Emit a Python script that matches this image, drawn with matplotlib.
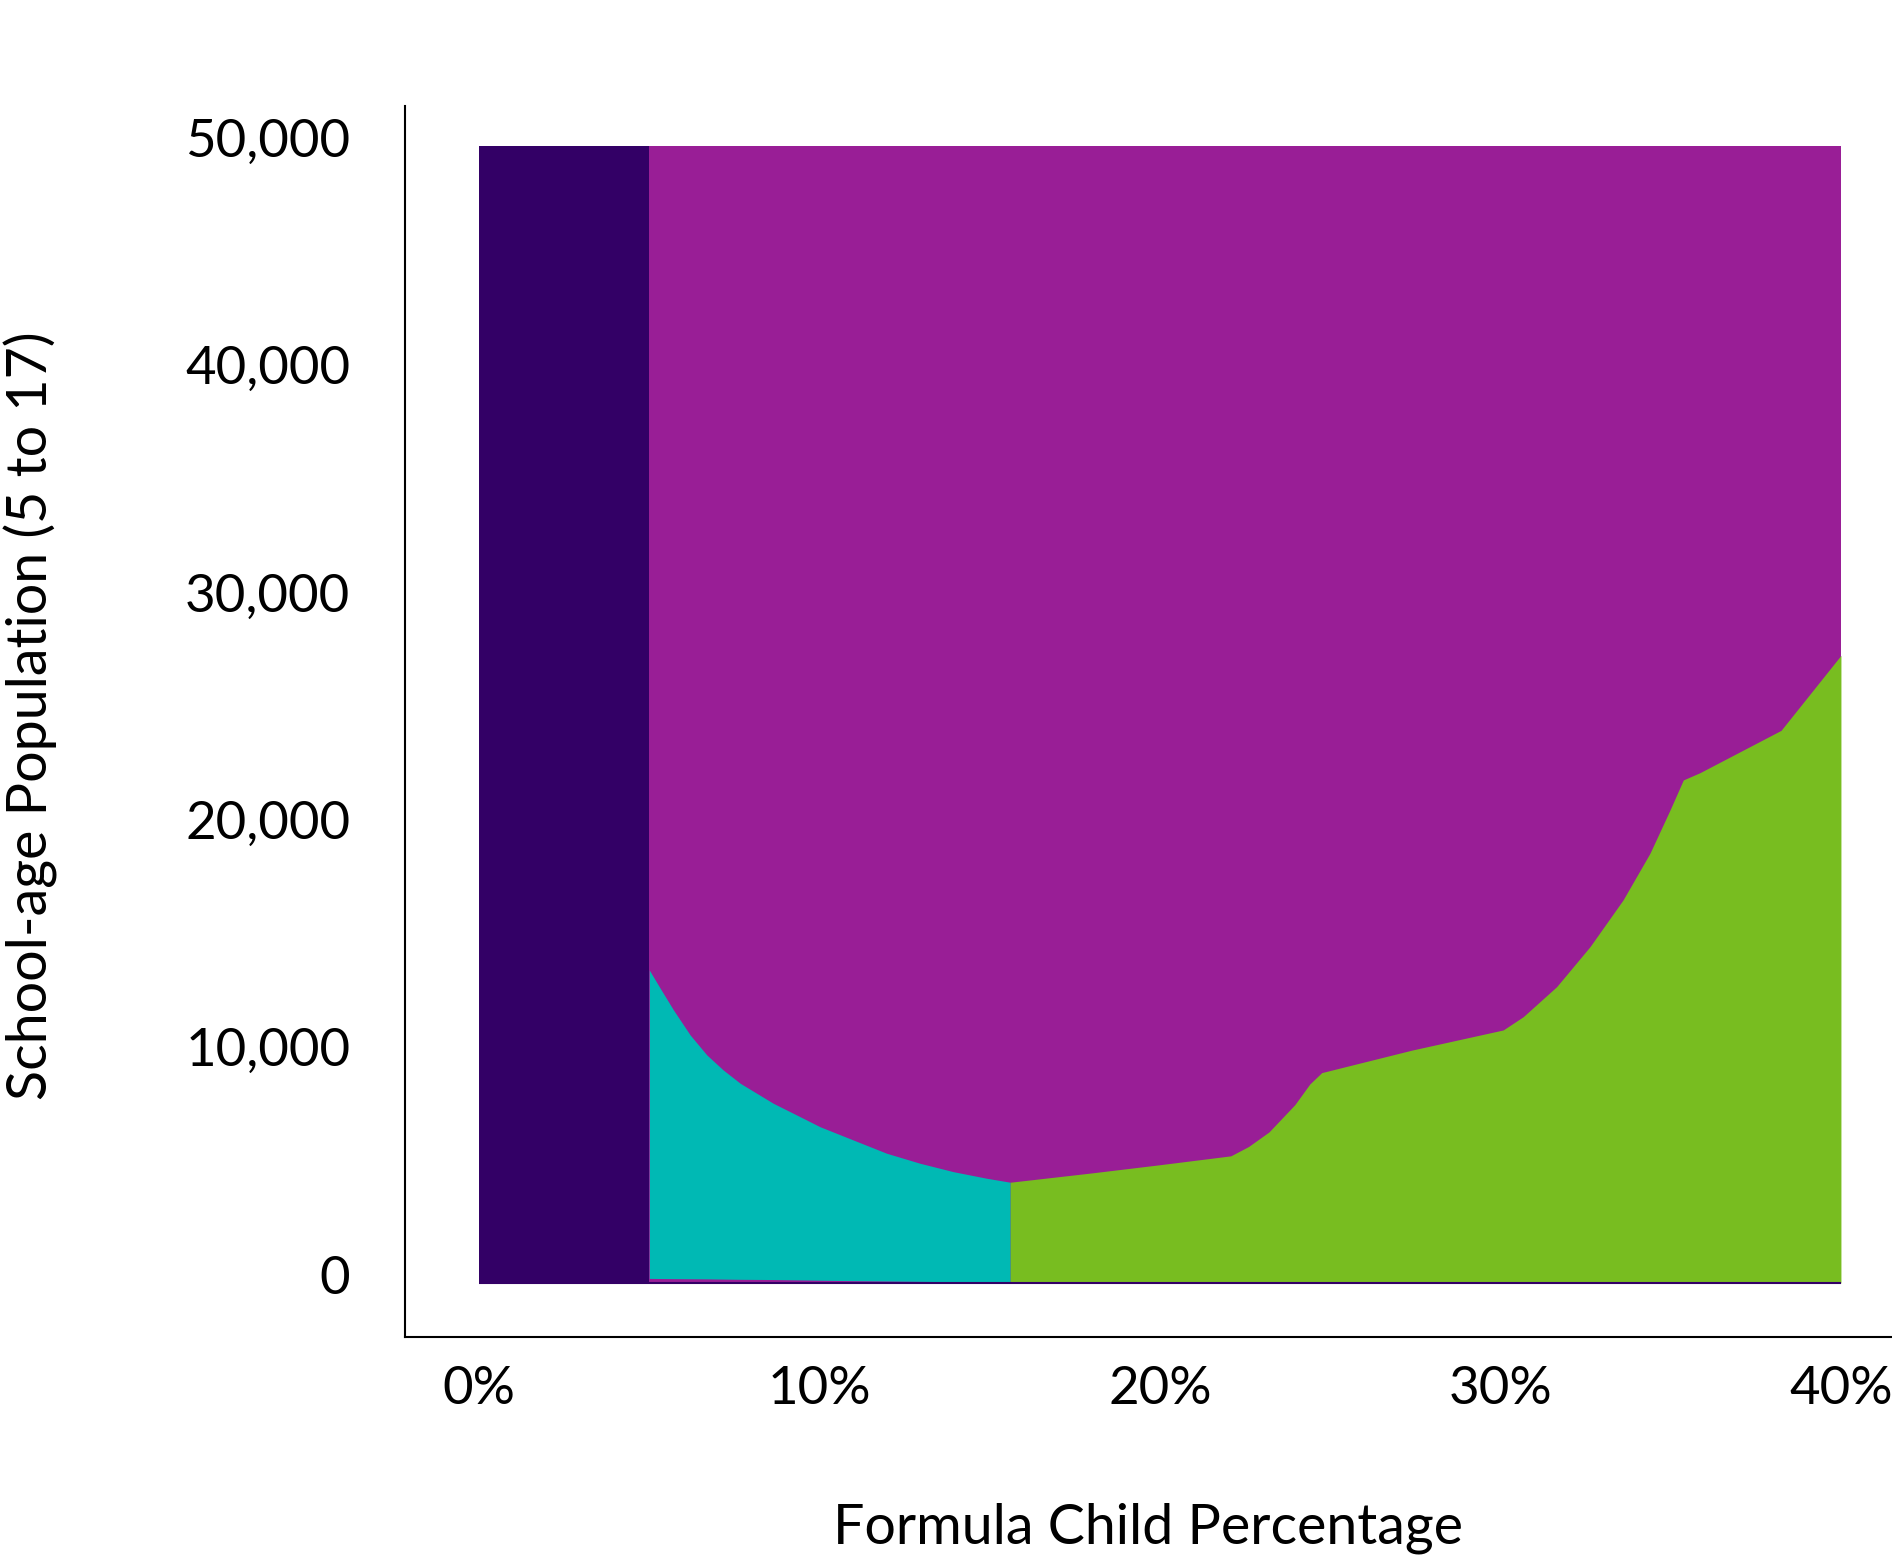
import matplotlib
matplotlib.use("Agg")
from matplotlib import pyplot as plt
from matplotlib.transforms import ScaledTranslation

plt.rcParams['font.family'] = ['Lato', 'DejaVu Sans']

# colours of the four regions
darkPurple = '#330066'
magenta = '#991e96'
teal = '#00b9b4'
green = '#78bd20'

# Top of the whole area (school-age population)
popTop = 50000

# Dark purple band: formula child percentage below 5%
darkX = [0.0, 5.0]

# Teal region: boundary curve between teal and magenta
tealX = [5.0, 5.32, 5.71, 6.2, 6.69, 7.17, 7.67, 8.64, 9.62, 10.01,
         10.99, 11.97, 12.95, 13.93, 14.91, 15.6]
tealY = [13760, 12960, 12005, 10905, 10026, 9367, 8782, 7902, 7168, 6873,
         6288, 5704, 5264, 4894, 4604, 4430]
tealBottom = [200, 195, 190, 185, 180, 170, 160, 150, 130, 120,
              100, 85, 70, 55, 45, 40]

# Green region: boundary curve between green and magenta
greenX = [15.6, 18.0, 20.0, 22.08, 22.6, 23.2, 23.96, 24.4, 24.75, 27.4,
          30.08, 30.67, 31.65, 32.63, 33.6, 34.39, 34.98, 35.37, 35.86,
          38.24, 40.0]
greenY = [4430, 4840, 5200, 5590, 6000, 6640, 7840, 8750, 9250, 10240,
          11126, 11711, 13030, 14790, 16843, 18896, 20800, 22120, 22440,
          24300, 27600]

xTicks = [0, 10, 20, 30, 40]
xTickLabels = ['0%', '10%', '20%', '30%', '40%']
yTicks = [0, 10000, 20000, 30000, 40000, 50000]
yTickLabels = ['0', '10,000', '20,000', '30,000', '40,000', '50,000']

fig = plt.figure(figsize=(18.92, 15.67), dpi=100)
ax = fig.add_axes([0.2138, 0.1468, 0.7862, 0.7856])

# magenta fills everything from 5% to 40% underneath the other areas
ax.fill_between([darkX[1], 40.0], 0, popTop, color=magenta, lw=0)
ax.fill_between(darkX, 0, popTop, color=darkPurple, lw=0)
ax.fill_between(tealX, tealBottom, tealY, color=teal, lw=0)
ax.fill_between(greenX, 0, greenY, color=green, lw=0)
ax.plot([0, 40], [0, 0], color=darkPurple, lw=1.5, solid_capstyle='butt')

ax.set_xlim(-2.19, 41.5)
ax.set_ylim(-2375, 51760)

for side in ['top', 'right']:
    ax.spines[side].set_visible(False)
for side in ['left', 'bottom']:
    ax.spines[side].set_linewidth(1.5)

ax.set_xticks(xTicks)
ax.set_xticklabels(xTickLabels)
ax.set_yticks(yTicks)
ax.set_yticklabels(yTickLabels)
ax.tick_params(length=0, labelsize=38)
ax.tick_params(axis='x', pad=21)
ax.tick_params(axis='y', pad=39)

# y labels sit a little above their gridline in the original
shift = ScaledTranslation(0, 6 / 72, fig.dpi_scale_trans)
for lbl in ax.get_yticklabels():
    lbl.set_transform(lbl.get_transform() + shift)

ax.set_xlabel('Formula Child Percentage', fontsize=40, labelpad=64)
ax.set_ylabel('School-age Population (5 to 17)', fontsize=40)
ax.yaxis.set_label_coords(-0.233, 0.505)

fig.savefig('out.png', dpi=100)
